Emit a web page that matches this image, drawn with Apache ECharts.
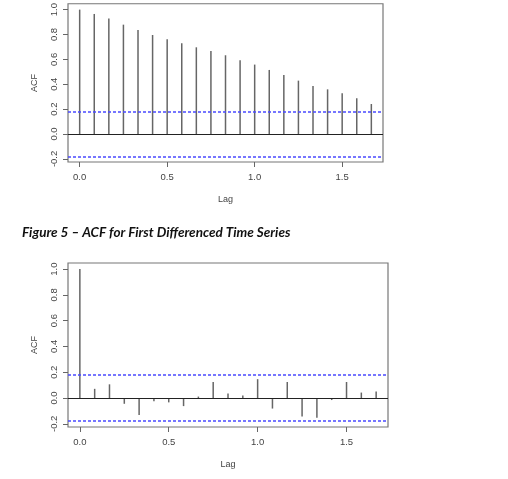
<!DOCTYPE html>
<html lang="en">
<head>
  <meta charset="UTF-8">
  <title>ACF</title>
  <script src="https://cdn.jsdelivr.net/npm/echarts@6/dist/echarts.min.js"></script>
  <style>
    html, body { margin: 0; padding: 0; background: #fff; }
  </style>
</head>
<body>
  <div id="main" style="width:508px;height:479px;"></div>
  <script>
    // lags in years (monthly series: k/12)
    var lags = [0, 1, 2, 3, 4, 5, 6, 7, 8, 9, 10, 11, 12, 13, 14, 15, 16, 17, 18, 19, 20].map(function (k) { return k / 12; });
    // ACF of the original series
    var acfLevel = [1.0, 0.965, 0.928, 0.879, 0.836, 0.796, 0.761, 0.729, 0.697, 0.668, 0.633,
                    0.592, 0.558, 0.515, 0.475, 0.429, 0.386, 0.359, 0.327, 0.287, 0.241];
    // ACF of the first differenced series
    var acfDiff = [1.0, 0.071, 0.106, -0.045, -0.132, -0.026, -0.034, -0.063, 0.011, 0.124, 0.034,
                   0.019, 0.146, -0.082, 0.124, -0.143, -0.153, -0.016, 0.124, 0.042, 0.05];
    var ciLimit = 0.178;
    var xTicks = [0, 0.5, 1.0, 1.5];
    var yTicks = [-0.2, 0, 0.2, 0.4, 0.6, 0.8, 1.0];
    var caption = "Figure 5 \u2013 ACF for First Differenced Time Series";

    var chart = echarts.init(document.getElementById("main"));

    function pairs(vals) {
      return vals.map(function (v, i) { return [lags[i], v]; });
    }

    function xAxisFor(idx) {
      return {
        type: "value", gridIndex: idx, min: -0.0667, max: 1.7333,
        name: "Lag", nameLocation: "middle", nameGap: 33,
        nameTextStyle: { color: "#444", fontSize: 9, fontFamily: "Liberation Sans" },
        splitLine: { show: false },
        axisLine: { show: false, onZero: false },
        axisTick: { show: true, customValues: xTicks, length: 5, lineStyle: { color: "#666" } },
        axisLabel: { customValues: xTicks, color: "#444", fontSize: 9.5, margin: 10,
                     fontFamily: "Liberation Sans",
                     formatter: function (v) { return v.toFixed(1); } }
      };
    }

    function yAxisFor(idx) {
      return {
        type: "value", gridIndex: idx, min: -0.225, max: 1.047,
        name: "ACF", nameLocation: "middle", nameGap: 29, nameRotate: 90,
        nameTextStyle: { color: "#444", fontSize: 9, fontFamily: "Liberation Sans" },
        splitLine: { show: false },
        axisLine: { show: false, onZero: false },
        axisTick: { show: true, customValues: yTicks, length: 5, lineStyle: { color: "#666" } },
        axisLabel: { customValues: yTicks, color: "#444", fontSize: 9.5, margin: 9, rotate: 90,
                     fontFamily: "Liberation Sans",
                     formatter: function (v) { return v.toFixed(1); } }
      };
    }

    // vertical spikes
    function spikes(idx, vals) {
      return {
        type: "bar", xAxisIndex: idx, yAxisIndex: idx,
        data: pairs(vals), barWidth: 1.5,
        itemStyle: { color: "#666" },
        silent: true
      };
    }

    // horizontal reference line(s) drawn through markLine
    function refLines(idx, levels, color, dash, width) {
      return {
        type: "line", xAxisIndex: idx, yAxisIndex: idx, data: [],
        color: color,
        markLine: {
          symbol: "none", silent: true, label: { show: false },
          lineStyle: { color: color, type: dash, width: width, opacity: 1 },
          emphasis: { disabled: true },
          data: levels.map(function (v) { return { yAxis: v }; })
        }
      };
    }

    var option = {
      backgroundColor: "#fff",
      animation: false,
      title: {
        text: caption, left: 22, top: 226, padding: 0,
        textStyle: { fontSize: 13.5, fontWeight: "bold", fontStyle: "italic",
                     fontFamily: "Lato", color: "#111" }
      },
      grid: [
        { left: 68, top: 3, width: 315, height: 159, show: true, borderColor: "#777", borderWidth: 1.2 },
        { left: 68, top: 263, width: 320, height: 164, show: true, borderColor: "#777", borderWidth: 1.2 }
      ],
      xAxis: [xAxisFor(0), xAxisFor(1)],
      yAxis: [yAxisFor(0), yAxisFor(1)],
      series: [
        refLines(0, [0], "#222", "solid", 1),
        refLines(1, [0], "#222", "solid", 1),
        refLines(0, [ciLimit, -ciLimit], "#4a4aff", [3, 2], 1.5),
        refLines(1, [ciLimit, -ciLimit], "#4a4aff", [3, 2], 1.5),
        spikes(0, acfLevel),
        spikes(1, acfDiff)
      ]
    };
    chart.setOption(option);
  </script>
</body>
</html>
